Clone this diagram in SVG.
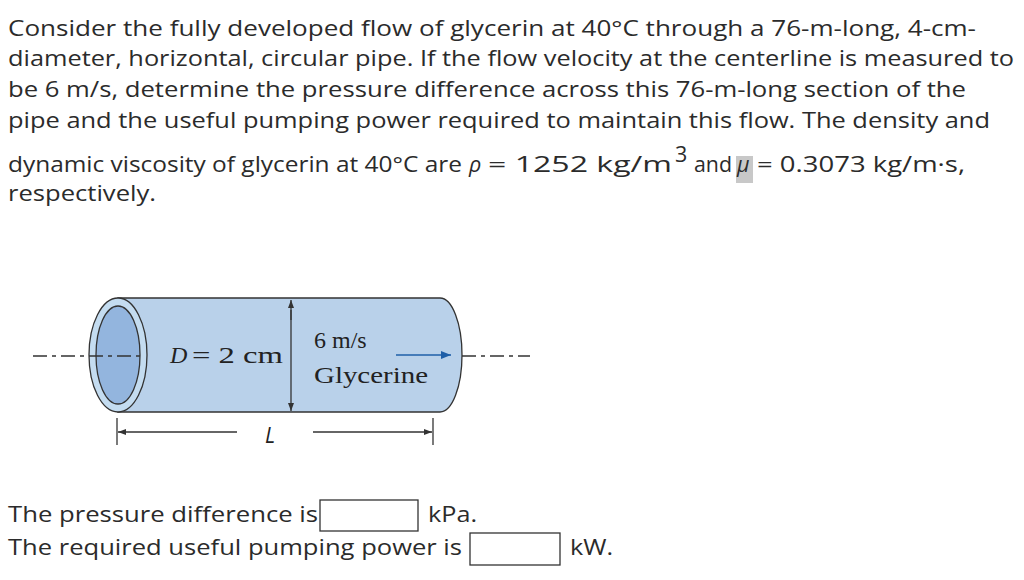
<svg xmlns="http://www.w3.org/2000/svg" width="1024" height="580" viewBox="0 0 1024 580">
<style>
.t{font-family:"Open Sans","Liberation Sans",sans-serif;font-size:21.5px;fill:#2b2b2b}
.s{font-family:"Liberation Serif",serif;font-size:24px;fill:#222}
.ln{stroke:#333;stroke-width:1.3;fill:none}
.dash{stroke:#333;stroke-width:1.3;stroke-dasharray:14,5,4,5;fill:none}
</style>
<defs>
<marker id="ah" markerWidth="8" markerHeight="6" refX="8" refY="3" orient="auto" markerUnits="userSpaceOnUse"><path d="M0,0 L8,3 L0,6z" fill="#333"/></marker>
<marker id="ab" markerWidth="10" markerHeight="8" refX="10" refY="4" orient="auto" markerUnits="userSpaceOnUse"><path d="M0,0 L10,4 L0,8z" fill="#1f5fa8"/></marker>
</defs>
<rect width="1024" height="580" fill="#fff"/>
<g id="question">
<text class="t" x="8" y="36" textLength="968" lengthAdjust="spacingAndGlyphs">Consider the fully developed flow of glycerin at 40°C through a 76-m-long, 4-cm-</text>
<text class="t" x="8" y="66" textLength="1006" lengthAdjust="spacingAndGlyphs">diameter, horizontal, circular pipe. If the flow velocity at the centerline is measured to</text>
<text class="t" x="8" y="97" textLength="958" lengthAdjust="spacingAndGlyphs">be 6 m/s, determine the pressure difference across this 76-m-long section of the</text>
<text class="t" x="8" y="128" textLength="982" lengthAdjust="spacingAndGlyphs">pipe and the useful pumping power required to maintain this flow. The density and</text>
<rect x="736" y="156" width="17" height="27" fill="#c8c8c8"/>
<text class="t" x="8" y="172" textLength="454" lengthAdjust="spacingAndGlyphs">dynamic viscosity of glycerin at 40°C are</text>
<text class="t" x="469" y="172" font-style="italic">ρ</text>
<text class="t" x="488" y="172" textLength="184" lengthAdjust="spacingAndGlyphs">= 1252 kg/m</text>
<text class="t" x="675" y="162" font-size="27">3</text>
<text class="t" x="694" y="172" textLength="38" lengthAdjust="spacingAndGlyphs">and</text>
<text class="t" x="737" y="172" font-style="italic">μ</text>
<text class="t" x="757" y="172" textLength="208" lengthAdjust="spacingAndGlyphs">= 0.3073 kg/m·s,</text>
<text class="t" x="8" y="201" textLength="148" lengthAdjust="spacingAndGlyphs">respectively.</text>
</g>
<g id="pipe">
<path d="M118,298 L440,298 A22,57 0 0 1 440,412 L118,412 Z" fill="#b9d1ea" stroke="#333" stroke-width="1.3"/>
<ellipse cx="118" cy="355" rx="29" ry="57" fill="#c4dcf0" stroke="#333" stroke-width="1.3"/>
<ellipse cx="118" cy="355" rx="22" ry="49" fill="#93b5de" stroke="#333" stroke-width="1.3"/>
<text class="s" x="170" y="363" font-style="italic">D</text>
<text class="s" x="192" y="363" textLength="91" lengthAdjust="spacingAndGlyphs">= 2 cm</text>
<text class="s" x="314" y="348">6 m/s</text>
<text class="s" x="314" y="383" textLength="114" lengthAdjust="spacingAndGlyphs">Glycerine</text>
</g>
<g id="connectors">
<line class="dash" x1="33" y1="356" x2="140" y2="356"/>
<line class="dash" x1="462" y1="356" x2="530" y2="356"/>
<line class="ln" x1="291" y1="320" x2="291" y2="300" marker-end="url(#ah)"/>
<line class="ln" x1="291" y1="310" x2="291" y2="411" marker-end="url(#ah)"/>
<line x1="396" y1="355" x2="451" y2="355" stroke="#1f5fa8" stroke-width="1.6" marker-end="url(#ab)"/>
<line class="ln" x1="117" y1="418" x2="117" y2="445"/>
<line class="ln" x1="433" y1="418" x2="433" y2="445"/>
<line class="ln" x1="237" y1="432" x2="118" y2="432" marker-end="url(#ah)"/>
<line class="ln" x1="313" y1="432" x2="432" y2="432" marker-end="url(#ah)"/>
<text x="265" y="443" font-family="'Open Sans','Liberation Sans',sans-serif" font-style="italic" font-size="21" fill="#222">L</text>
</g>
<g id="answers">
<text class="t" x="8" y="522" textLength="310" lengthAdjust="spacingAndGlyphs">The pressure difference is</text>
<rect x="320" y="500" width="98" height="31" fill="#fff" stroke="#333" stroke-width="1.3"/>
<text class="t" x="428" y="522" textLength="49" lengthAdjust="spacingAndGlyphs">kPa.</text>
<text class="t" x="8" y="555" textLength="454" lengthAdjust="spacingAndGlyphs">The required useful pumping power is</text>
<rect x="470" y="533" width="90" height="32" fill="#fff" stroke="#333" stroke-width="1.3"/>
<text class="t" x="570" y="555" textLength="43" lengthAdjust="spacingAndGlyphs">kW.</text>
</g>
</svg>
